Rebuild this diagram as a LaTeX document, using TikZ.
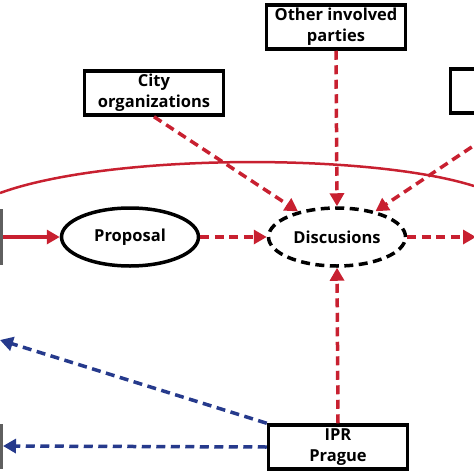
\documentclass[tikz,border=0pt]{standalone}
\usepackage{fontspec}
\setmainfont{Open Sans}
\usetikzlibrary{arrows.meta,shapes.geometric}
\definecolor{rd}{RGB}{200,32,48}
\definecolor{bl}{RGB}{38,58,140}
\definecolor{gr}{RGB}{95,95,95}
\tikzset{
  txt/.style={font=\fontsize{16.5}{21}\selectfont\bfseries},
  box/.style={draw=black,line width=3.5pt,rectangle,minimum width=139pt,minimum height=44pt,align=center,inner sep=0pt,txt},
  ell/.style={draw=black,line width=3.5pt,ellipse,minimum width=137pt,minimum height=58pt,inner sep=0pt,txt},
  greybox/.style={draw=gr,line width=3pt,rectangle,minimum width=139pt},
  tip/.style={-{Triangle[length=13pt,width=14pt]}},
  redsolid/.style={draw=rd,line width=3.5pt,tip},
  reddash/.style={draw=rd,line width=3.5pt,dash pattern=on 9pt off 5.5pt,tip},
  bluedash/.style={draw=bl,line width=3.5pt,dash pattern=on 9pt off 5.5pt,tip},
}
\begin{document}
\begin{tikzpicture}[x=1pt,y=-1pt]
\useasboundingbox (0,0) rectangle (474,474);
\clip (0,0) rectangle (474,474);
\node[box] (other) at (336,27) {Other involved\\parties};
\node[box] (city) at (154,93) {City\\organizations};
\node[box] (rightbox) at (520,91) {\phantom{X}\\\phantom{X}};
\node[ell] (prop) at (130,237) {Proposal};
\node[ell,dash pattern=on 9pt off 5.5pt] (disc) at (337,237) {Discusions};
\node[box] (ipr) at (338,447) {IPR\\Prague};
\node[greybox,minimum height=53pt] (leftA) at (-68,237) {};
\node[greybox,minimum height=42pt] (leftB) at (-68,446) {};
\coordinate (leftC) at (0,340);
\coordinate (rightD) at (476,237);
\draw[rd,line width=2.5pt] (0,193) .. controls (110,153) and (370,153) .. (474,186);
\draw[redsolid] (leftA.east) -- (prop.west);
\draw[reddash] (prop.east) -- (disc.west);
\draw[reddash] (disc.east) -- (rightD);
\draw[reddash] (city.south) -- (disc);
\draw[reddash] (other.south) -- (disc.north);
\draw[reddash] (rightbox.south) -- (disc);
\draw[reddash] (ipr.north) -- (disc.south);
\draw[bluedash] (ipr.north west) -- (leftC);
\draw[bluedash] (ipr.west) -- (leftB.east);
\end{tikzpicture}
\end{document}
